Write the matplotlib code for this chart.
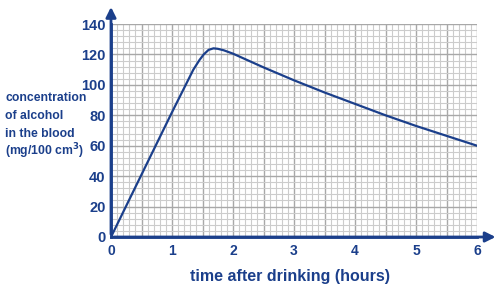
import numpy as np
import matplotlib.pyplot as plt
from matplotlib.ticker import MultipleLocator

plt.rcParams['font.family'] = ['Liberation Sans', 'DejaVu Sans']

# data
hours = [0, 0.5, 1.0, 1.2, 1.35, 1.45, 1.52, 1.6, 1.68, 1.75, 1.85, 2.0, 2.5,
         3.0, 3.5, 4.0, 4.5, 5.0, 5.5, 6.0]
conc = [0, 41, 82, 98, 110, 116.3, 120, 123, 124, 123.7, 122.7, 120.5, 111.5,
        103, 95, 87.5, 80, 73, 66.5, 60]
x_ticks = [0, 1, 2, 3, 4, 5, 6]
y_ticks = [0, 20, 40, 60, 80, 100, 120, 140]

navy = '#1b3f8b'

fig = plt.figure(figsize=(5, 3), dpi=100)
ax = fig.add_axes([0.222, 0.21, 0.732, 0.71])

ax.set_xlim(0, 6)
ax.set_ylim(0, 140)

# graph paper grid
ax.xaxis.set_minor_locator(MultipleLocator(0.1))
ax.yaxis.set_minor_locator(MultipleLocator(4))
ax.grid(which='minor', color='#cccccc', lw=0.8)
ax.grid(which='major', color='#a8a8a8', lw=1.0)
ax.set_axisbelow(True)

ax.plot(hours, conc, color=navy, lw=1.6, zorder=3)

# grid lines at 0.5 steps but labels only on whole hours
ax.set_xticks(np.arange(0, 6.01, 0.5))
ax.set_xticklabels([str(int(v)) if v in x_ticks else '' for v in np.arange(0, 6.01, 0.5)],
                   fontsize=10, fontweight='bold', color=navy)
ax.set_yticks(y_ticks)
ax.set_yticklabels([str(v) for v in y_ticks], fontsize=10.5, fontweight='bold', color=navy)
ax.tick_params(which='both', length=0)
ax.tick_params(axis='x', pad=5)
ax.tick_params(axis='y', pad=4)

for s in ['top', 'right']:
    ax.spines[s].set_visible(False)
for s in ['left', 'bottom']:
    ax.spines[s].set_color(navy)
    ax.spines[s].set_linewidth(2)

# axis arrows
arrow = dict(arrowstyle='-|>,head_length=0.6,head_width=0.3', color=navy, lw=2)
ax.annotate('', xy=(6.35, 0), xytext=(0, 0), arrowprops=arrow, annotation_clip=False)
ax.annotate('', xy=(0, 153), xytext=(0, 0), arrowprops=arrow, annotation_clip=False)

fig.text(0.58, 0.08, 'time after drinking (hours)', ha='center', va='center',
         fontsize=11.5, fontweight='bold', color=navy)

ylab = ['concentration', 'of alcohol', 'in the blood', '(mg/100 cm$^\\mathbf{3}$)']
ypos = [0.673, 0.613, 0.553, 0.495]
for t, yy in zip(ylab, ypos):
    fig.text(0.01, yy, t, fontsize=8.8, fontweight='bold', color=navy, va='center')

fig.savefig('out.png', dpi=100)
